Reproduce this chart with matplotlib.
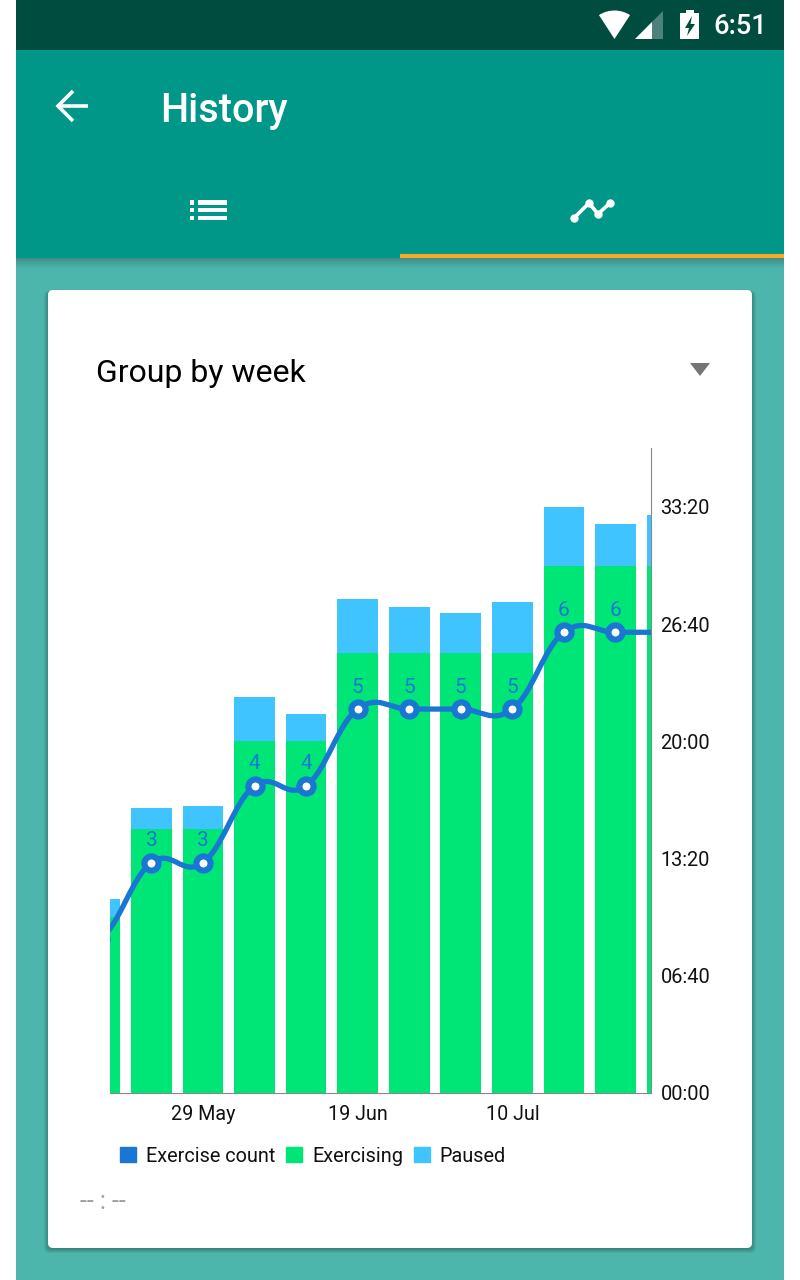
import numpy as np
import matplotlib
matplotlib.use("Agg")
import matplotlib.pyplot as plt
from matplotlib.patches import Rectangle, Polygon, Wedge, FancyBboxPatch, PathPatch, Patch
from matplotlib.path import Path

plt.rcParams["font.family"] = ["Roboto", "DejaVu Sans"]

# Chart data, one entry per week
weeks = [0, 1, 2, 3, 4, 5, 6, 7, 8, 9, 10, 11]
exercise_count = [2, 3, 3, 4, 4, 5, 5, 5, 5, 6, 6, 6]
exercising = [600, 900, 900, 1200, 1200, 1500, 1500, 1500, 1500, 1800, 1800, 1800]
paused = [61, 73, 80, 150, 92, 186, 159, 138, 176, 201, 143, 174]
date_ticks = [2, 5, 8]
date_labels = ["29 May", "19 Jun", "10 Jul"]
time_ticks = [0, 400, 800, 1200, 1600, 2000]
time_labels = ["00:00", "06:40", "13:20", "20:00", "26:40", "33:20"]

BLUE = "#1976D2"
GREEN = "#00E676"
LIGHT_BLUE = "#40C4FF"
TEAL = "#009688"
WHITE = "white"

fig = plt.figure(figsize=(8, 12.8), dpi=100, facecolor=WHITE)

# Screen furniture, drawn in pixel coordinates
ui = fig.add_axes([0, 0, 1, 1])
ui.set_xlim(0, 800)
ui.set_ylim(1280, 0)
ui.axis("off")

ui.add_patch(Rectangle((16, 0), 768, 1280, color="#4DB6AC", lw=0))
ui.add_patch(Rectangle((16, 0), 768, 50, color="#004D40", lw=0))
ui.add_patch(Rectangle((16, 50), 768, 208, color=TEAL, lw=0))
ui.add_patch(Rectangle((400, 254), 384, 4, color="#FFA726", lw=0))

# app bar shadow
for i in range(10):
    ui.add_patch(Rectangle((16, 258 + i), 768, 1, color="black", alpha=0.2 * (1 - i / 10), lw=0))

# card with a soft shadow
for i in range(5):
    ui.add_patch(FancyBboxPatch((48 - i, 291), 704 + 2 * i, 958 + i, boxstyle="round,pad=0,rounding_size=5",
                                fc="black", ec="none", alpha=0.06))
ui.add_patch(FancyBboxPatch((48, 290), 704, 958, boxstyle="round,pad=0,rounding_size=5", fc=WHITE, ec="none"))

# status bar icons
ui.add_patch(Wedge((614.5, 39), 28.5, 237, 303, color=WHITE, lw=0))
ui.add_patch(Polygon([(635, 39), (663, 39), (663, 11)], color=WHITE, alpha=0.3, lw=0))
ui.add_patch(Polygon([(635, 39), (652, 39), (652, 22)], color=WHITE, lw=0))
ui.add_patch(Rectangle((680, 13), 19, 26, color=WHITE, lw=0))
ui.add_patch(Rectangle((685.5, 10), 8, 4, color=WHITE, lw=0))
ui.add_patch(Polygon([(692, 16), (685, 28), (689, 28), (687, 36), (695, 24), (690.5, 24)], color="#004D40", lw=0))
ui.text(713, 26, "6:51", color=WHITE, fontsize=19.6, fontweight="medium", va="center", ha="left")

# back arrow and title
ui.plot([57, 88], [106, 106], color=WHITE, lw=2.6, solid_capstyle="butt")
ui.plot([73, 58, 73], [91, 106, 121], color=WHITE, lw=2.6, solid_joinstyle="miter", solid_capstyle="butt")
ui.text(160, 111, "History", color=WHITE, fontsize=28.5, fontweight="medium", va="center", ha="left")

# tab icons
for y in [200, 207.5, 215.5]:
    ui.add_patch(Rectangle((190, y), 4, 4.5, color=WHITE, lw=0))
    ui.add_patch(Rectangle((198, y), 28.5, 4.5, color=WHITE, lw=0))
icon_x = [574, 589, 598, 610]
icon_y = [218, 203, 214, 203]
ui.plot(icon_x, icon_y, color=WHITE, lw=2.6, marker="o", ms=5)

# card text
ui.text(96, 373, "Group by week", color="black", fontsize=23, va="center", ha="left")
ui.add_patch(Polygon([(690, 363), (710, 363), (700, 376)], color="#757575", lw=0))
ui.text(80, 1202, "-- : --", color="#9E9E9E", fontsize=17.8, va="center", ha="left")

# Chart axes, pixel box 110..651 by 448..1093
ax = fig.add_axes([110 / 800, (1280 - 1093) / 1280, 541 / 800, 645 / 1280])
ax.patch.set_alpha(0)
ax.bar(weeks, exercising, width=0.79, color=GREEN, label="Exercising")
ax.bar(weeks, paused, width=0.79, bottom=exercising, color=LIGHT_BLUE, label="Paused")
ax.set_xlim(0.196, 10.69)
ax.set_ylim(0, 2201)
ax.set_xticks(date_ticks)
ax.set_xticklabels(date_labels, fontsize=14.2, color="#111111")
ax.set_yticks(time_ticks)
ax.set_yticklabels(time_labels, fontsize=14.4, color="#111111")
ax.tick_params(axis="x", length=0, pad=9)
ax.tick_params(axis="y", length=0, pad=6.8)
ax.spines["top"].set_visible(False)
ax.spines["left"].set_visible(False)
ax.spines["right"].set_color("#888888")
ax.spines["bottom"].set_color("#888888")

# Exercise count has its own scale on a hidden second axis
ax2 = ax.twinx()
ax.yaxis.tick_right()
ax2.set_ylim(0, 8.4)
ax2.set_xlim(ax.get_xlim())
ax2.axis("off")

# Cubic bezier through the counts, control points taken from the neighbours
intensity = 0.2
verts = [(weeks[0], exercise_count[0])]
codes = [Path.MOVETO]
n = len(weeks)
for i in range(1, n):
    pp = max(i - 2, 0)
    nx = min(i + 1, n - 1)
    prev_dx = (weeks[i] - weeks[pp]) * intensity
    prev_dy = (exercise_count[i] - exercise_count[pp]) * intensity
    if i == 1:
        # the curve leaves the first point flatter
        prev_dx *= 2
    cur_dx = (weeks[nx] - weeks[i - 1]) * intensity
    cur_dy = (exercise_count[nx] - exercise_count[i - 1]) * intensity
    verts.append((weeks[i - 1] + prev_dx, exercise_count[i - 1] + prev_dy))
    verts.append((weeks[i] - cur_dx, exercise_count[i] - cur_dy))
    verts.append((weeks[i], exercise_count[i]))
    codes += [Path.CURVE4, Path.CURVE4, Path.CURVE4]
ax2.add_patch(PathPatch(Path(verts, codes), fc="none", ec=BLUE, lw=3.8))
ax2.plot(weeks, exercise_count, ls="none", marker="o", ms=10.2, mfc=WHITE, mec=BLUE, mew=4.4)
for x, c in zip(weeks, exercise_count):
    ax2.annotate(str(c), (x, c), xytext=(0, 9), textcoords="offset points", ha="center", va="bottom",
                 fontsize=15, color=BLUE, annotation_clip=True)

handles = [Patch(color=BLUE, label="Exercise count"), Patch(color=GREEN, label="Exercising"),
           Patch(color=LIGHT_BLUE, label="Paused")]
ax2.legend(handles=handles, ncol=3, frameon=False, fontsize=14.3, loc="upper left",
           bbox_to_anchor=(10 / 541, -53.5 / 645), borderpad=0, borderaxespad=0,
           handlelength=0.8, handleheight=0.8, handletextpad=0.5, columnspacing=0.55, labelcolor="#111111")

fig.savefig("out.png", dpi=100)
